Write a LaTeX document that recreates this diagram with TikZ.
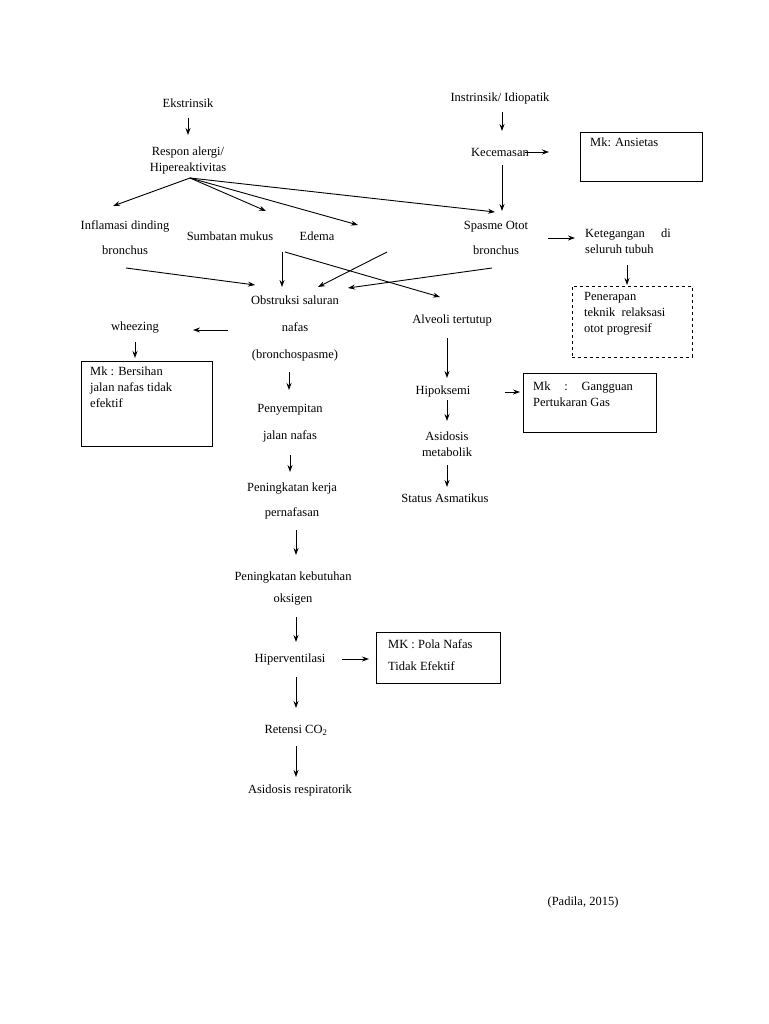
\documentclass[tikz,border=0pt]{standalone}
\usepackage{fontspec}
\setmainfont{Liberation Serif}
\usetikzlibrary{arrows.meta}
\begin{document}
\begin{tikzpicture}[x=1pt,y=-1pt,
  every node/.style={font=\fontsize{12.5}{16}\selectfont, inner sep=0pt},
  t/.style={align=center},
  l/.style={align=left, anchor=north west},
  box/.style={draw, line width=0.8pt},
  dbox/.style={draw, dashed, line width=0.8pt},
  a/.style={-{Stealth[length=7pt,width=5pt]}, line width=0.9pt}]
\useasboundingbox (0,0) rectangle (768,1024);
\node[t] (ek) at (188,103) {Ekstrinsik};
\node[t] (re) at (188,160) {Respon alergi/\\Hipereaktivitas};
\node[t] (in) at (500,98) {Instrinsik/ Idiopatik};
\node[t] (ke) at (500,152) {Kecemasan};
\node[box, minimum width=122pt, minimum height=49pt] (ans) at (641,156.5) {};
\node[l] (ansT) at (590,138) {Mk: Ansietas};
\node[t, font=\fontsize{12.5}{25}\selectfont] (inf) at (125,238) {Inflamasi dinding\\bronchus};
\node[t] (su) at (230,236) {Sumbatan mukus};
\node[t] (ed) at (317,236) {Edema};
\node[t, font=\fontsize{12.5}{25}\selectfont] (sp) at (496,238) {Spasme Otot\\bronchus};
\node[l] (kt) at (585,229) {Ketegangan\hspace{1.3em}di\\seluruh tubuh};
\node[dbox, minimum width=120pt, minimum height=71pt] (pen) at (632,321.5) {};
\node[l] (penT) at (584,292) {Penerapan\\teknik\hspace{0.5em}relaksasi\\otot progresif};
\node[t, font=\fontsize{12.5}{27}\selectfont] (ob) at (295,328) {Obstruksi saluran\\nafas\\(bronchospasme)};
\node[t] (wh) at (135,328) {wheezing};
\node[box, minimum width=131pt, minimum height=85pt] (ber) at (146.5,403.5) {};
\node[l] (berT) at (90,367) {Mk : Bersihan\\jalan nafas tidak\\efektif};
\node[t, font=\fontsize{12.5}{27}\selectfont] (py) at (290,423) {Penyempitan\\jalan nafas};
\node[t, font=\fontsize{12.5}{25}\selectfont] (pk) at (292,501) {Peningkatan kerja\\pernafasan};
\node[t, font=\fontsize{12.5}{22}\selectfont] (pb) at (293,589) {Peningkatan kebutuhan\\oksigen};
\node[t] (hv) at (290,659) {Hiperventilasi};
\node[box, minimum width=124pt, minimum height=51pt] (pol) at (438,657.5) {};
\node[l, font=\fontsize{12.5}{22}\selectfont] (polT) at (388,639) {MK : Pola Nafas\\Tidak Efektif};
\node[t] (rc) at (296,730) {Retensi CO\textsubscript{2}};
\node[t] (ar) at (300,790) {Asidosis respiratorik};
\node[t] (al) at (452,320) {Alveoli tertutup};
\node[t] (hk) at (443,391) {Hipoksemi};
\node[box, minimum width=133pt, minimum height=59pt] (gg) at (589.5,402.5) {};
\node[l] (ggT) at (533,382) {Mk\hspace{1.1em}:\hspace{1.1em}Gangguan\\Pertukaran Gas};
\node[t] (am) at (447,444) {Asidosis\\metabolik};
\node[t] (sa) at (445,498) {Status Asmatikus};
\node[t] (pad) at (583,902) {(Padila, 2015)};
% coordinates for connectors
\coordinate (f) at (190,178);
\draw[a] (188,118) -- (188,135);
\draw[a] (502,112) -- (502,131);
\draw[a] (525,152) -- (549,152);
\draw[a] (502,165) -- (502,211);
\draw[a] (f) -- (113,206);
\draw[a] (f) -- (266,211);
\draw[a] (f) -- (358,225);
\draw[a] (f) -- (495,212);
\draw[a] (548,238) -- (575,238);
\draw[a] (627,265) -- (627,285);
\draw[a] (126,268) -- (255,285);
\draw[a] (282,252) -- (282,287);
\draw[a] (285,252) -- (440,297);
\draw[a] (387,252) -- (318,287);
\draw[a] (492,268) -- (348,288);
\draw[a] (228,330) -- (193,330);
\draw[a] (135,342) -- (135,358);
\draw[a] (289,372) -- (289,390);
\draw[a] (290,455) -- (290,472);
\draw[a] (296,530) -- (296,555);
\draw[a] (296,617) -- (296,642);
\draw[a] (342,659) -- (369,659);
\draw[a] (296,677) -- (296,708);
\draw[a] (296,746) -- (296,777);
\draw[a] (447,338) -- (447,378);
\draw[a] (505,392) -- (520,392);
\draw[a] (447,400) -- (447,421);
\draw[a] (447,465) -- (447,487);
\end{tikzpicture}
\end{document}
